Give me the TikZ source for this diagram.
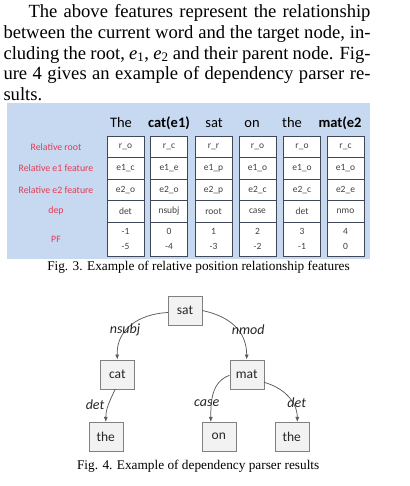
\documentclass[tikz,border=0pt]{standalone}
\usepackage{fontspec}
\setmainfont{Liberation Serif}
\newfontfamily\carlito{Carlito}
\usetikzlibrary{arrows.meta,positioning}
\definecolor{tblbg}{RGB}{198,217,241}
\definecolor{rowred}{RGB}{230,58,80}
\definecolor{cellline}{RGB}{64,72,88}
\definecolor{celltext}{RGB}{64,64,64}
\definecolor{treeline}{RGB}{90,90,90}
\definecolor{treefill}{RGB}{242,242,242}
\definecolor{treeborder}{RGB}{128,128,128}

\begin{document}
\begin{tikzpicture}[
  x=1pt, y=1pt,
  para/.style={anchor=north west, inner sep=0pt, text width=367pt, align=justify,
               font=\fontsize{18.6}{20.7}\selectfont},
  figcap/.style={anchor=base, inner sep=0pt, font=\fontsize{13.3}{15}\selectfont},
  head/.style={anchor=base, inner sep=0pt, font=\carlito\fontsize{14.5}{16}\selectfont},
  rowlab/.style={inner sep=0pt, text=rowred, font=\carlito\fontsize{9.8}{11}\selectfont},
  cell/.style={draw=cellline, line width=0.6pt, fill=white, minimum width=37pt,
               minimum height=21.5pt, inner sep=0pt, outer sep=0pt, align=center,
               text=celltext, font=\carlito\fontsize{9.5}{15}\selectfont},
  word/.style={draw=treeborder, fill=treefill, minimum width=34pt, minimum height=29pt,
               inner sep=0pt, text=black!85, font=\carlito\fontsize{13.5}{15}\selectfont},
  deparrow/.style={-{Latex[length=5pt,width=4pt]}, draw=treeline, line width=0.75pt},
  rel/.style={inner sep=0pt, text=black!85, font=\carlito\itshape\fontsize{14}{16}\selectfont}
]
\useasboundingbox (0,0) rectangle (409,486);

% paragraph above the figures
\node[para] (txt) at (3.3,481.6) {\noindent\hspace*{25pt}The above features represent the
  relationship\linebreak between the current word and the target node, in-\linebreak{}cluding
  the root, \textit{e}\textsubscript{1}, \textit{e}\textsubscript{2} and their parent node.
  Fig-\linebreak{}ure 4 gives an example of dependency parser re-\linebreak{}sults.};

% Fig. 3: feature table
\fill[tblbg] (7,227) rectangle (370,383);

\node[head] (hthe) at (121,358.3) {The};
\node[head] (hcat) at (169,358.3) {\bfseries cat(e1)};
\node[head] (hsat) at (214,358.3) {sat};
\node[head] (hon)  at (252,358.3) {on};
\node[head] (hthe2) at (292,358.3) {the};
\node[head] (hmat) at (340,358.3) {\bfseries mat(e2};

\node[rowlab] (lroot) at (56,339.3) {Relative root};
\node[rowlab] (leone) at (56,317.8) {Relative e1 feature};
\node[rowlab] (letwo) at (56,296.3) {Relative e2 feature};
\node[rowlab] (ldep)  at (56,274.8) {dep};
\node[rowlab] (lpf)   at (56,246.9) {PF};

\foreach \x/\ra/\rb/\rc/\rd/\pa/\pb [count=\i] in {
    125.5/r\_o/e1\_c/e2\_o/det/-1/-5,
    169/r\_c/e1\_e/e2\_o/nsubj/0/-4,
    213.5/r\_r/e1\_p/e2\_p/root/1/-3,
    257.5/r\_o/e1\_o/e2\_c/case/2/-2,
    302/r\_o/e1\_o/e2\_c/det/3/-1,
    345.5/r\_c/e1\_o/e2\_e/nmo/4/0}{
  \node[cell] (root\i) at (\x,339.3) {\ra};
  \node[cell, below=0pt of root\i] (eone\i) {\rb};
  \node[cell, below=0pt of eone\i] (etwo\i) {\rc};
  \node[cell, below=0pt of etwo\i] (dep\i) {\rd};
  \node[cell, below=0pt of dep\i, minimum height=34.3pt] (pf\i) {\pa\\\pb};
}

\node[figcap] (cap3) at (198.5,215.3) {Fig. 3. Example of relative position relationship features};

% Fig. 4: dependency tree
\node[word] (sat)  at (185,175.5)  {sat};
\node[word] (cat)  at (117.3,111.7) {cat};
\node[word] (mat)  at (246.7,111.7) {mat};
\node[word] (the1) at (105.8,49.3) {the};
\node[word] (on)   at (218.8,49.3) {on};
\node[word] (the2) at (291.7,49.3) {the};

\draw[deparrow] ([yshift=-2pt]sat.west) to[out=183,in=92,looseness=1.1] (cat.north);
\draw[deparrow] (sat.east) to[out=-12,in=90,looseness=1.1] (mat.north);
\draw[deparrow] ([xshift=-2pt]cat.south) to[out=245,in=90] (the1.north);
\draw[deparrow] ([yshift=-1pt]mat.west) to[out=200,in=90] ([xshift=-8pt]on.north);
\draw[deparrow] ([yshift=-8pt]mat.east) to[out=-15,in=90] ([xshift=5.6pt]the2.north);

\node[rel] (lnsubj) at (125,156)    {nsubj};
\node[rel] (lnmod)  at (248.3,156)  {nmod};
\node[rel] (ldet1)  at (95,81)      {det};
\node[rel] (lcase)  at (206.7,83.3) {case};
\node[rel] (ldet2)  at (296.7,83.3) {det};

\node[figcap] (cap4) at (198.2,16.7) {Fig. 4. Example of dependency parser results};
\end{tikzpicture}
\end{document}
